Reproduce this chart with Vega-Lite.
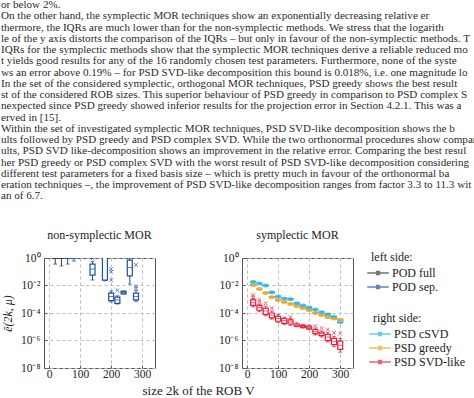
{
  "$schema": "https://vega.github.io/schema/vega-lite/v6.json",
  "padding": {"left": 0, "top": -1, "right": 0, "bottom": 0},
  "background": "white",
  "config": {
    "font": "Liberation Serif",
    "view": {"stroke": "#555", "strokeWidth": 1},
    "axis": {"labelFont": "Liberation Serif", "labelFontSize": 11.5, "labelColor": "#222", "titleFont": "Liberation Serif", "titleFontWeight": "normal", "titleColor": "#222", "titleFontSize": 12, "grid": true, "gridDash": [3, 3], "gridColor": "#bbb", "domain": false, "ticks": true, "tickSize": -3, "tickColor": "#555"},
    "title": {"font": "Liberation Serif", "fontWeight": "normal", "color": "#222"},
    "legend": {"titleFont": "Liberation Serif", "titleFontSize": 12, "titleFontWeight": "normal", "titleColor": "#222", "labelFont": "Liberation Serif", "labelFontSize": 12, "labelColor": "#222", "symbolType": "M-1.8,0H1.8M-0.25,-0.25H0.25V0.25H-0.25Z", "symbolSize": 144, "symbolStrokeWidth": 1.3, "rowPadding": 1, "titlePadding": 2, "labelOffset": 7}
  },
  "datasets": {
    "box": [
      {"p": "L", "m": "POD full", "s": 20, "lo": 0.36, "q1": 0.95, "md": 2, "q3": 4, "hi": 8},
      {"p": "L", "m": "POD full", "s": 40, "lo": 0.26, "q1": 0.93, "md": 2, "q3": 4, "hi": 8},
      {"p": "L", "m": "POD sep.", "s": 60, "lo": 0.36, "q1": 0.95, "md": 2, "q3": 4, "hi": 8},
      {"p": "L", "m": "POD sep.", "s": 80, "lo": 0.6, "q1": 0.97, "md": 2, "q3": 4, "hi": 8},
      {"p": "L", "m": "POD sep.", "s": 140, "lo": 0.025, "q1": 0.0575, "md": 0.158, "q3": 0.363, "hi": 0.55},
      {"p": "L", "m": "POD sep.", "s": 180, "lo": 0.022, "q1": 0.025, "md": 1.5, "q3": 2, "hi": 5},
      {"p": "L", "m": "POD sep.", "s": 200, "lo": 0.00063, "q1": 0.00079, "md": 0.00158, "q3": 0.0028, "hi": 0.00398},
      {"p": "L", "m": "POD sep.", "s": 220, "lo": 0.000447, "q1": 0.0005, "md": 0.00089, "q3": 0.00141, "hi": 0.00178},
      {"p": "L", "m": "POD sep.", "s": 240, "lo": 0.0024, "q1": 0.0025, "md": 0.0031, "q3": 0.0038, "hi": 0.004},
      {"p": "L", "m": "POD sep.", "s": 260, "lo": 0.0126, "q1": 0.05, "md": 0.2, "q3": 0.7, "hi": 1.5},
      {"p": "L", "m": "POD sep.", "s": 280, "lo": 0.000708, "q1": 0.00089, "md": 0.00158, "q3": 0.0028, "hi": 0.00447},

      {"p": "R", "m": "PSD cSVD", "s": 20, "lo": 1.41e-2, "q1": 1.58e-2, "md": 1.78e-2, "q3": 1.99e-2, "hi": 2.24e-2},
      {"p": "R", "m": "PSD cSVD", "s": 40, "lo": 1.12e-2, "q1": 1.26e-2, "md": 1.41e-2, "q3": 1.59e-2, "hi": 1.78e-2},
      {"p": "R", "m": "PSD cSVD", "s": 60, "lo": 7.94e-3, "q1": 8.91e-3, "md": 1e-2, "q3": 1.12e-2, "hi": 1.26e-2},
      {"p": "R", "m": "PSD cSVD", "s": 80, "lo": 2.51e-3, "q1": 2.82e-3, "md": 3.16e-3, "q3": 3.55e-3, "hi": 3.98e-3},
      {"p": "R", "m": "PSD cSVD", "s": 100, "lo": 1.26e-3, "q1": 1.41e-3, "md": 1.585e-3, "q3": 1.78e-3, "hi": 2.0e-3},
      {"p": "R", "m": "PSD cSVD", "s": 120, "lo": 8.91e-4, "q1": 1.0e-3, "md": 1.12e-3, "q3": 1.26e-3, "hi": 1.41e-3},
      {"p": "R", "m": "PSD cSVD", "s": 140, "lo": 7.94e-4, "q1": 8.91e-4, "md": 1e-3, "q3": 1.12e-3, "hi": 1.26e-3},
      {"p": "R", "m": "PSD cSVD", "s": 160, "lo": 3.98e-4, "q1": 4.47e-4, "md": 5.01e-4, "q3": 5.62e-4, "hi": 6.31e-4},
      {"p": "R", "m": "PSD cSVD", "s": 180, "lo": 2.82e-4, "q1": 3.16e-4, "md": 3.55e-4, "q3": 3.98e-4, "hi": 4.47e-4},
      {"p": "R", "m": "PSD cSVD", "s": 200, "lo": 2.0e-4, "q1": 2.24e-4, "md": 2.51e-4, "q3": 2.82e-4, "hi": 3.16e-4},
      {"p": "R", "m": "PSD cSVD", "s": 220, "lo": 1.41e-4, "q1": 1.58e-4, "md": 1.78e-4, "q3": 2.0e-4, "hi": 2.24e-4},
      {"p": "R", "m": "PSD cSVD", "s": 240, "lo": 8.91e-5, "q1": 1.0e-4, "md": 1.12e-4, "q3": 1.26e-4, "hi": 1.41e-4},
      {"p": "R", "m": "PSD cSVD", "s": 260, "lo": 6.31e-5, "q1": 7.08e-5, "md": 7.94e-5, "q3": 8.91e-5, "hi": 1.0e-4},
      {"p": "R", "m": "PSD cSVD", "s": 280, "lo": 3.98e-5, "q1": 4.47e-5, "md": 5.01e-5, "q3": 5.62e-5, "hi": 6.31e-5},
      {"p": "R", "m": "PSD cSVD", "s": 300, "lo": 1.78e-5, "q1": 2.0e-5, "md": 2.51e-5, "q3": 3.16e-5, "hi": 3.55e-5},

      {"p": "R", "m": "PSD greedy", "s": 20, "lo": 8.5e-3, "q1": 9.55e-3, "md": 1.07e-2, "q3": 1.2e-2, "hi": 1.35e-2},
      {"p": "R", "m": "PSD greedy", "s": 40, "lo": 4.47e-3, "q1": 5.01e-3, "md": 5.62e-3, "q3": 6.31e-3, "hi": 7.08e-3},
      {"p": "R", "m": "PSD greedy", "s": 60, "lo": 2.24e-3, "q1": 2.51e-3, "md": 2.82e-3, "q3": 3.16e-3, "hi": 3.55e-3},
      {"p": "R", "m": "PSD greedy", "s": 80, "lo": 1.12e-3, "q1": 1.26e-3, "md": 1.41e-3, "q3": 1.58e-3, "hi": 1.78e-3},
      {"p": "R", "m": "PSD greedy", "s": 100, "lo": 7.08e-4, "q1": 7.94e-4, "md": 8.91e-4, "q3": 1.0e-3, "hi": 1.12e-3},
      {"p": "R", "m": "PSD greedy", "s": 120, "lo": 5.01e-4, "q1": 5.62e-4, "md": 6.31e-4, "q3": 7.08e-4, "hi": 7.94e-4},
      {"p": "R", "m": "PSD greedy", "s": 140, "lo": 3.55e-4, "q1": 3.98e-4, "md": 4.47e-4, "q3": 5.01e-4, "hi": 5.62e-4},
      {"p": "R", "m": "PSD greedy", "s": 160, "lo": 2.51e-4, "q1": 2.82e-4, "md": 3.16e-4, "q3": 3.55e-4, "hi": 3.98e-4},
      {"p": "R", "m": "PSD greedy", "s": 180, "lo": 1.78e-4, "q1": 2.0e-4, "md": 2.24e-4, "q3": 2.51e-4, "hi": 2.82e-4},
      {"p": "R", "m": "PSD greedy", "s": 200, "lo": 1.26e-4, "q1": 1.41e-4, "md": 1.58e-4, "q3": 1.78e-4, "hi": 2.0e-4},
      {"p": "R", "m": "PSD greedy", "s": 220, "lo": 7.94e-5, "q1": 8.91e-5, "md": 1e-4, "q3": 1.12e-4, "hi": 1.26e-4},
      {"p": "R", "m": "PSD greedy", "s": 240, "lo": 5.62e-5, "q1": 6.31e-5, "md": 7.08e-5, "q3": 7.94e-5, "hi": 8.91e-5},
      {"p": "R", "m": "PSD greedy", "s": 260, "lo": 3.98e-5, "q1": 4.47e-5, "md": 5.01e-5, "q3": 5.62e-5, "hi": 6.31e-5},
      {"p": "R", "m": "PSD greedy", "s": 280, "lo": 3.16e-5, "q1": 3.55e-5, "md": 3.98e-5, "q3": 4.47e-5, "hi": 5.01e-5},
      {"p": "R", "m": "PSD greedy", "s": 300, "lo": 2.51e-5, "q1": 2.82e-5, "md": 3.16e-5, "q3": 3.55e-5, "hi": 3.98e-5},

      {"p": "R", "m": "PSD SVD-like", "s": 20, "lo": 2.82e-4, "q1": 3.55e-4, "md": 5.62e-4, "q3": 8.91e-4, "hi": 1.12e-3},
      {"p": "R", "m": "PSD SVD-like", "s": 40, "lo": 1.26e-4, "q1": 1.58e-4, "md": 2.51e-4, "q3": 3.55e-4, "hi": 4.47e-4},
      {"p": "R", "m": "PSD SVD-like", "s": 60, "lo": 6.31e-5, "q1": 7.94e-5, "md": 1.41e-4, "q3": 2.24e-4, "hi": 3.16e-4},
      {"p": "R", "m": "PSD SVD-like", "s": 80, "lo": 3.55e-5, "q1": 4.47e-5, "md": 7.08e-5, "q3": 1e-4, "hi": 1.41e-4},
      {"p": "R", "m": "PSD SVD-like", "s": 100, "lo": 2.0e-5, "q1": 2.51e-5, "md": 3.98e-5, "q3": 5.62e-5, "hi": 7.94e-5},
      {"p": "R", "m": "PSD SVD-like", "s": 120, "lo": 1.41e-5, "q1": 1.78e-5, "md": 2.82e-5, "q3": 3.98e-5, "hi": 5.01e-5},
      {"p": "R", "m": "PSD SVD-like", "s": 140, "lo": 1.26e-5, "q1": 1.58e-5, "md": 2.24e-5, "q3": 3.16e-5, "hi": 3.98e-5},
      {"p": "R", "m": "PSD SVD-like", "s": 160, "lo": 1e-5, "q1": 1.12e-5, "md": 1.32e-5, "q3": 1.58e-5, "hi": 1.91e-5},
      {"p": "R", "m": "PSD SVD-like", "s": 180, "lo": 7.94e-6, "q1": 8.91e-6, "md": 1.07e-5, "q3": 1.26e-5, "hi": 1.51e-5},
      {"p": "R", "m": "PSD SVD-like", "s": 200, "lo": 6.31e-6, "q1": 7.08e-6, "md": 8.91e-6, "q3": 1.12e-5, "hi": 1.32e-5},
      {"p": "R", "m": "PSD SVD-like", "s": 220, "lo": 2.51e-6, "q1": 3.16e-6, "md": 4.47e-6, "q3": 6.31e-6, "hi": 7.94e-6},
      {"p": "R", "m": "PSD SVD-like", "s": 240, "lo": 1.78e-6, "q1": 2.24e-6, "md": 3.16e-6, "q3": 3.98e-6, "hi": 5.01e-6},
      {"p": "R", "m": "PSD SVD-like", "s": 260, "lo": 7.94e-7, "q1": 1e-6, "md": 1.78e-6, "q3": 2.82e-6, "hi": 3.98e-6},
      {"p": "R", "m": "PSD SVD-like", "s": 280, "lo": 3.55e-7, "q1": 5.01e-7, "md": 8.91e-7, "q3": 1.41e-6, "hi": 2.0e-6},
      {"p": "R", "m": "PSD SVD-like", "s": 300, "lo": 1.41e-7, "q1": 2.24e-7, "md": 4.47e-7, "q3": 8.91e-7, "hi": 1.41e-6}
    ],
    "out": [
      {"p": "L", "m": "POD sep.", "s": 140, "v": 0.95},
      {"p": "L", "m": "POD sep.", "s": 200, "v": 0.158},
      {"p": "L", "m": "POD sep.", "s": 200, "v": 0.1},
      {"p": "L", "m": "POD sep.", "s": 200, "v": 0.025},
      {"p": "L", "m": "POD sep.", "s": 220, "v": 0.0045},
      {"p": "L", "m": "POD sep.", "s": 280, "v": 0.316},
      {"p": "L", "m": "POD sep.", "s": 280, "v": 0.0089},
      {"p": "L", "m": "POD sep.", "s": 280, "v": 0.0063},
      {"p": "R", "m": "PSD SVD-like", "s": 20, "v": 2.0e-3},
      {"p": "R", "m": "PSD SVD-like", "s": 20, "v": 1.41e-3},
      {"p": "R", "m": "PSD SVD-like", "s": 40, "v": 8.91e-4},
      {"p": "R", "m": "PSD SVD-like", "s": 40, "v": 6.31e-4},
      {"p": "R", "m": "PSD SVD-like", "s": 60, "v": 5.01e-4},
      {"p": "R", "m": "PSD SVD-like", "s": 80, "v": 2.24e-4},
      {"p": "R", "m": "PSD SVD-like", "s": 140, "v": 5.01e-5},
      {"p": "R", "m": "PSD SVD-like", "s": 220, "v": 1.12e-5},
      {"p": "R", "m": "PSD SVD-like", "s": 240, "v": 7.94e-6},
      {"p": "R", "m": "PSD SVD-like", "s": 260, "v": 6.31e-6},
      {"p": "R", "m": "PSD SVD-like", "s": 280, "v": 3.55e-6},
      {"p": "R", "m": "PSD SVD-like", "s": 300, "v": 3.16e-6}
    ]
  },
  "title": {
    "text": [
      "or below 2%.",
      "\u00a0\u00a0On the other hand, the symplectic MOR techniques show an exponentially decreasing relative er",
      "thermore, the IQRs are much lower than for the non-symplectic methods. We stress that the logarith",
      "le of the y axis distorts the comparison of the IQRs – but only in favour of the non-symplectic methods. T",
      "\u00a0IQRs for the symplectic methods show that the symplectic MOR techniques derive a reliable reduced mo",
      "t yields good results for any of the 16 randomly chosen test parameters. Furthermore, none of the syste",
      "ws an error above 0.19% – for PSD SVD-like decomposition this bound is 0.018%, i.e. one magnitude lo",
      "\u00a0\u00a0In the set of the considered symplectic, orthogonal MOR techniques, PSD greedy shows the best result",
      "st of the considered ROB sizes. This superior behaviour of PSD greedy in comparison to PSD complex S",
      "nexpected since PSD greedy showed inferior results for the projection error in Section 4.2.1. This was a",
      "erved in [15].",
      "\u00a0\u00a0Within the set of investigated symplectic MOR techniques, PSD SVD-like decomposition shows the b",
      "ults followed by PSD greedy and PSD complex SVD. While the two orthonormal procedures show compara",
      "ults, PSD SVD like-decomposition shows an improvement in the relative error. Comparing the best resul",
      "her PSD greedy or PSD complex SVD with the worst result of PSD SVD-like decomposition considering",
      "different test parameters for a fixed basis size – which is pretty much in favour of the orthonormal ba",
      "eration techniques –, the improvement of PSD SVD-like decomposition ranges from factor 3.3 to 11.3 wit",
      "an of 6.7."
    ],
    "anchor": "start",
    "frame": "bounds",
    "fontSize": 11.1,
    "lineHeight": 11.25,
    "color": "#2a2a2a",
    "offset": 27
  },
  "vconcat": [
    {
      "bounds": "flush",
      "spacing": 87,
      "resolve": {"scale": {"color": "independent", "x": "independent", "y": "independent"}},
      "hconcat": [
        {
          "width": 111,
          "height": 110,
          "title": {"text": "non-symplectic MOR", "fontSize": 12, "offset": 10},
          "data": {"name": "box"},
          "transform": [{"filter": "datum.p == 'L'"}],
          "encoding": {
            "x": {"field": "s", "type": "quantitative", "scale": {"domain": [0, 325], "nice": false}, "axis": {"values": [0, 100, 200, 300], "title": "size 2k of the ROB V", "titleFontSize": 13, "titleAnchor": "start", "titleAlign": "left", "titleX": 98, "titlePadding": 5, "labelPadding": 3}},
            "color": {"field": "m", "type": "nominal", "scale": {"domain": ["POD full", "POD sep."], "range": ["#3a3a3a", "#1f50a5"]}, "legend": {"title": "left side:", "orient": "none", "legendX": 327, "legendY": -6}}
          },
          "layer": [
            {"mark": {"type": "rule", "strokeWidth": 1, "clip": true},
             "encoding": {"y": {"field": "lo", "type": "quantitative", "scale": {"type": "log", "domain": [1e-8, 1], "nice": false}, "axis": {"values": [1e-8, 1e-6, 1e-4, 1e-2, 1], "labelExpr": "datum.value >= 0.5 ? '10⁰' : '10⁻' + ['⁰','¹','²','³','⁴','⁵','⁶','⁷','⁸'][round(-log(datum.value)/LN10)]", "title": "ē(2k, μ)", "titleFontStyle": "italic", "labelPadding": 7, "titlePadding": 6}}, "y2": {"field": "hi"}}},
            {"mark": {"type": "tick", "orient": "horizontal", "size": 4, "thickness": 1, "clip": true}, "encoding": {"y": {"field": "lo", "type": "quantitative"}}},
            {"mark": {"type": "tick", "orient": "horizontal", "size": 4, "thickness": 1, "clip": true}, "encoding": {"y": {"field": "hi", "type": "quantitative"}}},
            {"mark": {"type": "bar", "width": 5, "filled": false, "fill": "white", "strokeWidth": 1.2, "clip": true}, "encoding": {"y": {"field": "q1", "type": "quantitative"}, "y2": {"field": "q3"}}},
            {"mark": {"type": "tick", "orient": "horizontal", "size": 5, "thickness": 1, "clip": true}, "encoding": {"y": {"field": "md", "type": "quantitative"}}},
            {"data": {"name": "out"}, "transform": [{"filter": "datum.p == 'L'"}], "mark": {"type": "point", "shape": "M-1,-1L1,1M-1,1L1,-1", "size": 14, "strokeWidth": 1, "filled": false, "clip": true}, "encoding": {"y": {"field": "v", "type": "quantitative"}}}
          ]
        },
        {
          "width": 111,
          "height": 110,
          "title": {"text": "symplectic MOR", "fontSize": 12, "offset": 10},
          "data": {"name": "box"},
          "transform": [{"filter": "datum.p == 'R'"}],
          "encoding": {
            "x": {"field": "s", "type": "quantitative", "scale": {"domain": [0, 325], "nice": false}, "axis": {"values": [0, 100, 200, 300], "title": null, "labelPadding": 3}},
            "color": {"field": "m", "type": "nominal", "scale": {"domain": ["PSD cSVD", "PSD greedy", "PSD SVD-like"], "range": ["#2bb5e6", "#e5a62e", "#e3203c"]}, "legend": {"title": "right side:", "orient": "none", "legendX": 131, "legendY": 55}}
          },
          "layer": [
            {"mark": {"type": "rule", "strokeWidth": 1, "clip": true},
             "encoding": {"y": {"field": "lo", "type": "quantitative", "scale": {"type": "log", "domain": [1e-8, 1], "nice": false}, "axis": {"values": [1e-8, 1e-6, 1e-4, 1e-2, 1], "labelExpr": "datum.value >= 0.5 ? '10⁰' : '10⁻' + ['⁰','¹','²','³','⁴','⁵','⁶','⁷','⁸'][round(-log(datum.value)/LN10)]", "title": null, "labelPadding": 7}}, "y2": {"field": "hi"}}},
            {"mark": {"type": "tick", "orient": "horizontal", "size": 4, "thickness": 1, "clip": true}, "encoding": {"y": {"field": "lo", "type": "quantitative"}}},
            {"mark": {"type": "tick", "orient": "horizontal", "size": 4, "thickness": 1, "clip": true}, "encoding": {"y": {"field": "hi", "type": "quantitative"}}},
            {"mark": {"type": "bar", "width": 5, "filled": false, "fill": "white", "strokeWidth": 1.2, "clip": true}, "encoding": {"y": {"field": "q1", "type": "quantitative"}, "y2": {"field": "q3"}}},
            {"mark": {"type": "tick", "orient": "horizontal", "size": 5, "thickness": 1, "clip": true}, "encoding": {"y": {"field": "md", "type": "quantitative"}}},
            {"data": {"name": "out"}, "transform": [{"filter": "datum.p == 'R'"}], "mark": {"type": "point", "shape": "M-1,-1L1,1M-1,1L1,-1", "size": 14, "strokeWidth": 1, "filled": false, "clip": true}, "encoding": {"y": {"field": "v", "type": "quantitative"}}}
          ]
        }
      ]
    }
  ]
}
